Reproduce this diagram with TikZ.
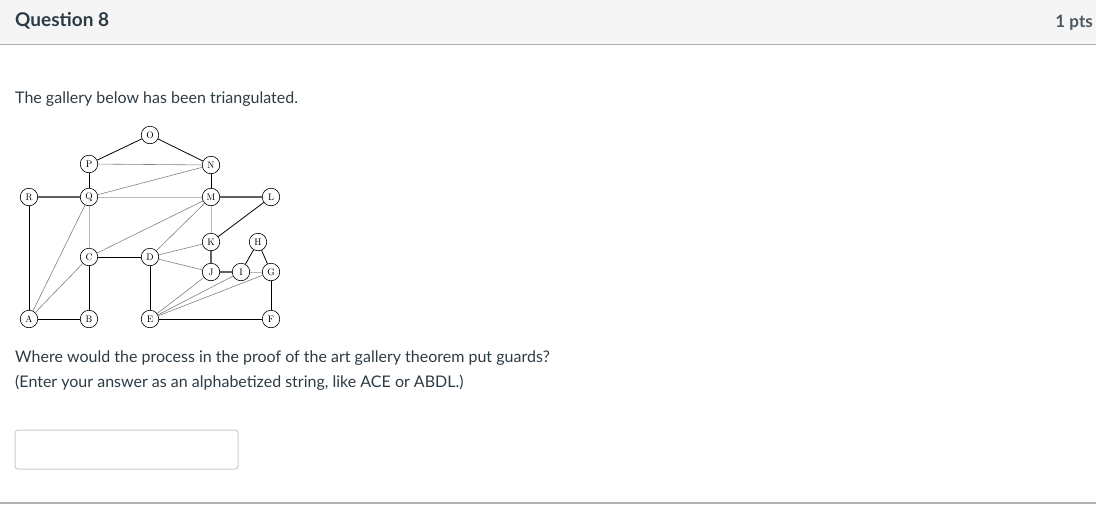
\documentclass[tikz,border=0pt]{standalone}
\usepackage{fontspec}
\newfontfamily\lato{Lato}
\definecolor{txt}{HTML}{2D3B45}
\definecolor{hdr}{HTML}{F5F5F5}
\definecolor{rule}{HTML}{B0B0B0}
\definecolor{boxb}{HTML}{C7CDD1}
\tikzset{
  v/.style={circle,draw=black,line width=0.6pt,fill=white,minimum size=17.5pt,inner sep=0pt,font=\fontsize{9.5}{10}\selectfont},
  wall/.style={draw=black,line width=0.8pt},
  wallg/.style={draw=gray!75!black,line width=1.2pt},
  diag/.style={draw=gray,line width=0.6pt},
  diagl/.style={draw=gray!55,line width=0.9pt},
  txtnode/.style={anchor=base west,inner sep=0pt,text=txt,font=\lato\fontsize{16}{18}\selectfont}
}
\begin{document}
\begin{tikzpicture}[x=1pt,y=-1pt]
\useasboundingbox (0,0) rectangle (1096,504);
\fill[hdr] (0,0) rectangle (1096,44);
\draw[rule,line width=1pt] (0,44) -- (1096,44);
\node[anchor=base west,inner sep=0pt,text=txt,font=\lato\bfseries\fontsize{19}{22}\selectfont] (title) at (15,26) {Question 8};
\node[anchor=base east,inner sep=0pt,text=txt!85,font=\lato\bfseries\fontsize{17}{20}\selectfont] (pts) at (1093,27) {1 pts};
\node[txtnode] (intro) at (15,103) {The gallery below has been triangulated.};
\node[txtnode] (q1) at (15,362) {Where would the process in the proof of the art gallery theorem put guards?};
\node[txtnode] (q2) at (15,387) {(Enter your answer as an alphabetized string, like ACE or ABDL.)};
\draw[boxb,line width=1pt,rounded corners=3pt] (15,430) rectangle (238,469);
\draw[rule,line width=1.2pt] (0,503) -- (1096,503);

% vertices
\node[v] (O) at (150,135) {O};
\node[v] (P) at (89,164) {P};
\node[v] (N) at (211,165) {N};
\node[v] (R) at (29,197) {R};
\node[v] (Q) at (89,197) {Q};
\node[v] (M) at (211,197) {M};
\node[v] (L) at (271,197) {L};
\node[v] (K) at (211,242) {K};
\node[v] (H) at (258,242) {H};
\node[v] (C) at (89,257) {C};
\node[v] (D) at (150,257) {D};
\node[v] (J) at (211,272) {J};
\node[v] (I) at (241,272) {I};
\node[v] (G) at (271,272) {G};
\node[v] (A) at (29,319) {A};
\node[v] (B) at (89,319) {B};
\node[v] (E) at (150,319) {E};
\node[v] (F) at (271,319) {F};

% diagonals
\path[diag] (P) -- (N);
\path[diag] (Q) -- (N);
\path[diagl] (Q) -- (M);
\path[diagl] (Q) -- (C);
\path[diag] (Q) -- (A);
\path[diag] (C) -- (A);
\path[diag] (C) -- (M);
\path[diag] (D) -- (M);
\path[diag] (D) -- (K);
\path[diag] (D) -- (J);
\path[diagl] (M) -- (K);
\path[diag] (E) -- (J);
\path[diag] (E) -- (I);
\path[diag] (E) -- (G);
\path[diagl] (I) -- (G);
% walls
\path[wall] (A) -- (R);
\path[wallg] (R) -- (Q);
\path[wall] (Q) -- (P);
\path[wall] (P) -- (O);
\path[wall] (O) -- (N);
\path[wall] (N) -- (M);
\path[wallg] (M) -- (L);
\path[wall] (L) -- (K);
\path[wallg] (K) -- (J);
\path[wallg] (J) -- (I);
\path[wall] (I) -- (H);
\path[wall] (H) -- (G);
\path[wall] (G) -- (F);
\path[wall] (F) -- (E);
\path[wall] (E) -- (D);
\path[wall] (D) -- (C);
\path[wall] (C) -- (B);
\path[wall] (B) -- (A);
\end{tikzpicture}
\end{document}
